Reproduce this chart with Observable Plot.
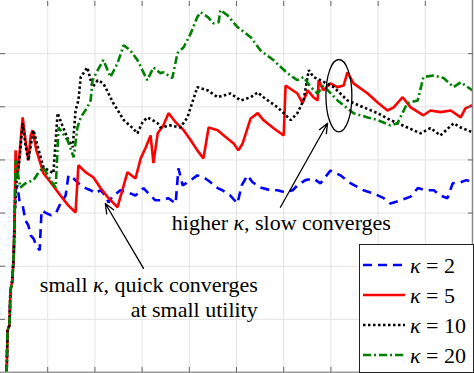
<!DOCTYPE html>
<html><head><meta charset="utf-8">
<script src="https://cdn.jsdelivr.net/npm/d3@7"></script>
<script src="https://cdn.jsdelivr.net/npm/@observablehq/plot@0.6"></script>
<style>
html,body{margin:0;padding:0;background:#fff;}
#wrap{position:relative;width:474px;height:373px;overflow:hidden;}
#legend{position:absolute;left:359px;top:244px;}
</style></head><body><div id="wrap"></div>
<script>
// ---- data (x: iteration, y: utility) ----
const seriesNames = ["κ = 2", "κ = 5", "κ = 10", "κ = 20"];

const blueX = [13,15,19,21,25,28,30,32,36,40,47,53,59,64,70,76,83,87,95,106,117,127,138,144,155,170,180,191,201,212,222,229,237,254,275,286,303,318,328,339,356,371,377,386,403,417,434,445,460,470,487,502,511,523,534,551,572,587,604,619,629,646,663,678,699,720,742,769,790,812,826,848,869,884,901,918,932,947,958,975,987,1000];
const blueY = [0,0.79,0.89,1.54,1.73,2.20,2.96,3.43,3.52,3.24,3.14,2.86,2.77,2.58,2.52,2.39,2.30,3.05,3.01,2.96,2.99,3.18,3.33,3.71,3.65,3.52,3.47,3.43,3.37,3.43,3.33,3.20,3.31,3.43,3.37,3.33,3.47,3.33,3.24,3.24,3.28,3.18,3.84,3.52,3.62,3.71,3.65,3.58,3.47,3.43,3.33,3.18,3.52,3.71,3.58,3.48,3.43,3.43,3.39,3.43,3.52,3.62,3.65,3.56,3.80,3.71,3.56,3.43,3.37,3.28,3.18,3.24,3.31,3.47,3.43,3.43,3.33,3.28,3.56,3.58,3.62,3.58];

const redX = [13,15,19,21,25,28,30,32,36,40,47,53,59,64,68,76,91,106,127,144,159,165,180,197,212,229,248,269,286,297,307,318,324,333,345,356,371,388,403,417,430,441,460,477,494,504,513,530,545,557,578,600,604,629,640,651,663,672,674,684,699,714,727,735,748,778,799,820,833,852,869,896,911,932,954,975,985,1000];
const redY = [0,0.79,0.89,1.54,1.73,2.20,2.96,4.18,3.65,4.09,4.80,4.37,3.99,4.46,4.56,4.18,3.75,3.58,3.33,3.14,3.01,3.90,3.77,3.67,3.47,3.28,3.11,3.77,3.65,4.03,4.22,4.46,3.94,4.50,4.65,4.88,4.71,4.56,4.37,4.18,4.03,4.61,4.56,4.43,4.31,4.18,4.31,4.78,4.88,4.75,4.60,4.46,5.40,5.25,5.07,5.31,5.18,5.12,5.50,5.31,5.44,5.37,5.40,5.65,5.44,5.25,5.08,4.93,4.99,5.18,4.99,4.84,4.93,4.90,4.93,4.80,4.97,5.03];

const blackX = [13,15,19,21,25,28,30,34,40,47,53,59,66,70,81,91,102,112,121,131,142,153,159,165,170,184,195,206,218,239,261,280,290,301,311,322,333,339,360,381,396,417,439,460,487,509,530,545,557,587,615,629,642,653,663,678,706,735,769,799,826,862,890,911,932,960,975,1000];
const blackY = [0,0.79,0.89,1.54,1.73,2.20,2.96,3.62,3.99,4.69,4.27,3.99,4.37,4.56,4.18,3.86,3.80,3.75,4.88,4.65,4.41,4.24,4.93,5.12,5.56,5.74,5.37,5.50,5.44,5.07,4.75,4.60,4.50,4.71,4.80,4.75,4.69,4.61,4.65,4.61,4.80,5.37,5.31,5.18,5.25,5.12,5.18,5.27,5.18,4.99,4.75,4.88,5.12,5.69,5.56,5.50,5.37,5.12,4.99,4.88,4.75,4.61,4.50,4.60,4.46,4.69,4.61,4.52];

const greenX = [13,15,19,21,25,28,30,32,42,53,70,81,91,106,117,123,142,155,163,170,184,191,195,206,218,233,248,261,275,290,311,324,339,345,364,375,388,403,417,424,439,451,462,466,481,502,530,551,578,608,629,642,657,672,684,714,748,778,799,826,841,862,884,896,918,939,960,975,1000];
const greenY = [0,0.79,0.89,1.54,1.73,2.20,2.96,3.99,3.48,3.56,3.62,3.77,3.86,3.62,3.48,4.61,4.37,4.05,4.61,4.80,4.99,5.12,5.50,5.69,5.88,5.56,5.82,6.16,6.06,5.88,5.50,5.74,5.63,5.65,5.54,6.01,6.12,6.38,6.69,6.78,6.69,6.57,6.59,6.82,6.72,6.50,6.31,6.06,5.88,5.63,5.50,5.56,5.37,5.25,5.40,5.12,4.88,4.80,4.75,4.65,4.69,5.07,5.12,5.56,5.59,5.54,5.37,5.46,5.31];

const xTicks = [100,200,300,400,500,600,700,800,900];
const yTicks = [1,2,3,4,5,6];
const xDomain = [0, 1000];
const yDomain = [0, 7];

const noteTexts = ["higher κ, slow converges", "small κ, quick converges", "at small utility"];

// ---- styles / annotation placement (separate from data) ----
const seriesStyles = [
  {color: "#0000ff", dash: "9,6"},
  {color: "#ff0000", dash: null},
  {color: "#000000", dash: "2.5,2.5"},
  {color: "#008000", dash: "8,3,2,3"}
];
const notePlacement = [
  {x: 595, y: 2.81, anchor: "middle"},
  {x: 545, y: 1.64, anchor: "end"},
  {x: 545, y: 1.17, anchor: "end"}
];
const arrowSpecs = [
  {x1: 593, y1: 3.11, x2: 693, y2: 4.69},
  {x1: 303, y1: 1.96, x2: 222, y2: 3.18}
];
const ellipseSpec = {cx: 718, cy: 5.20, rx: 27.5, ry: 0.68};

// ---- build tables ----
const seriesXs = [blueX, redX, blackX, greenX];
const seriesYs = [blueY, redY, blackY, greenY];
const tables = seriesNames.map((name, i) =>
  seriesXs[i].map((x, j) => ({series: name, x, y: seriesYs[i][j]})));
const notes = noteTexts.map((t, i) => ({text: t, ...notePlacement[i]}));

const fontFamily = "'Liberation Serif', 'Times New Roman', serif";

const ellipseMark = (index, scales) => {
  const g = d3.create("svg:g");
  const sx = scales.x, sy = scales.y;
  g.append("ellipse")
    .attr("cx", sx(ellipseSpec.cx))
    .attr("cy", sy(ellipseSpec.cy))
    .attr("rx", sx(ellipseSpec.cx + ellipseSpec.rx) - sx(ellipseSpec.cx))
    .attr("ry", sy(ellipseSpec.cy - ellipseSpec.ry) - sy(ellipseSpec.cy))
    .attr("fill", "none").attr("stroke", "black").attr("stroke-width", 1.3);
  return g.node();
};

const tickStyle = {stroke: "#666", strokeWidth: 1, tickSize: -5, tickFormat: () => "", label: null};

const plot = Plot.plot({
  width: 474,
  height: 373,
  marginLeft: 0,
  marginRight: 2,
  marginTop: 0,
  marginBottom: 1,
  x: {domain: xDomain, axis: null},
  y: {domain: yDomain, axis: null},
  style: {background: "white", fontFamily},
  marks: [
    Plot.gridX(xTicks, {stroke: "#e3e3e3", strokeOpacity: 1, strokeWidth: 1}),
    Plot.gridY(yTicks, {stroke: "#e3e3e3", strokeOpacity: 1, strokeWidth: 1}),
    ...tables.map((t, i) => Plot.line(t, {
      x: "x", y: "y",
      stroke: seriesStyles[i].color,
      strokeWidth: 2.6,
      strokeDasharray: seriesStyles[i].dash,
      strokeLinejoin: "miter",
      strokeLinecap: "butt",
      clip: true
    })),
    Plot.ruleY([yDomain[0]], {stroke: "#9a9a9a", strokeWidth: 2}),
    Plot.ruleX([xDomain[1]], {stroke: "#8a8a8a", strokeWidth: 1.5}),
    Plot.axisX(xTicks, {anchor: "bottom", ...tickStyle}),
    Plot.axisX(xTicks, {anchor: "top", ...tickStyle}),
    Plot.axisY(yTicks, {anchor: "left", ...tickStyle}),
    Plot.axisY(yTicks, {anchor: "right", ...tickStyle}),
    ellipseMark,
    Plot.arrow(arrowSpecs, {x1: "x1", y1: "y1", x2: "x2", y2: "y2", stroke: "black", strokeWidth: 1.3, headLength: 12, headAngle: 45}),
    Plot.text(notes.filter(d => d.anchor === "middle"), {x: "x", y: "y", text: "text", textAnchor: "middle", fontSize: 22, fill: "black", fontFamily}),
    Plot.text(notes.filter(d => d.anchor === "end"), {x: "x", y: "y", text: "text", textAnchor: "end", fontSize: 22, fill: "black", fontFamily})
  ]
});

// italic kappa
function italicizeKappa(root) {
  root.querySelectorAll("text").forEach(t => {
    const targets = t.querySelectorAll("tspan").length ? [...t.querySelectorAll("tspan")] : [t];
    targets.forEach(el => {
      const s = el.textContent;
      if (!s.includes("κ")) return;
      el.textContent = "";
      s.split(/(κ)/).forEach(part => {
        if (!part) return;
        const ts = document.createElementNS("http://www.w3.org/2000/svg", "tspan");
        ts.textContent = part;
        if (part === "κ") ts.setAttribute("font-style", "italic");
        el.appendChild(ts);
      });
    });
  });
}
italicizeKappa(plot);

const wrap = document.getElementById("wrap");
wrap.appendChild(plot);

// legend overlay
const lg = d3.select(wrap).append("svg").attr("id", "legend")
  .attr("width", 115).attr("height", 129);
lg.append("rect").attr("x", 0.5).attr("y", 0.5).attr("width", 114).attr("height", 128)
  .attr("fill", "white").attr("stroke", "#222").attr("stroke-width", 1);
seriesNames.forEach((name, i) => {
  const cy = 21 + i * 30;
  lg.append("line").attr("x1", 4).attr("x2", 46).attr("y1", cy).attr("y2", cy)
    .attr("stroke", seriesStyles[i].color).attr("stroke-width", 2.6)
    .attr("stroke-dasharray", seriesStyles[i].dash);
  lg.append("text").attr("x", 51).attr("y", cy).attr("dy", "0.35em")
    .attr("font-family", fontFamily).attr("font-size", 22).text(name);
});
italicizeKappa(lg.node());
</script>
</body></html>
